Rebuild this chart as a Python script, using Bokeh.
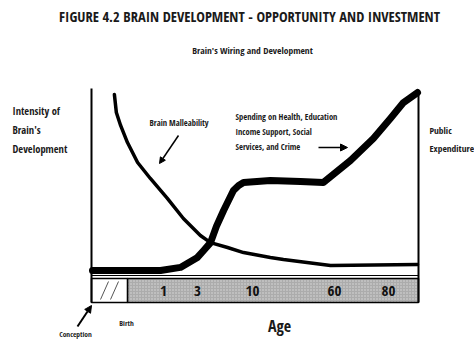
from bokeh.plotting import figure
from bokeh.models import Range1d, Arrow, NormalHead
from bokeh.core.properties import value
from bokeh.embed import file_html
from bokeh.resources import INLINE

# ---- data (x: position along the age axis 0-100, y: intensity 0-100) ----
expenditure_x = [0.3, 21.1, 27.2, 32.4, 34.3, 36.4, 38.2, 40.4, 43.4, 45.0, 46.5, 54.7, 63.9, 70.9, 79.2, 86.2, 91.4, 95.4, 99.7]
expenditure_y = [4.3, 4.3, 5.9, 11.2, 14.9, 19.1, 27.7, 36.2, 46.8, 49.5, 51.1, 52.1, 51.6, 51.1, 62.8, 74.5, 85.1, 93.6, 98.9]
malleability_x = [7.0, 7.6, 8.9, 11.0, 14.1, 18.0, 23.2, 28.1, 33.3, 36.4, 41.6, 46.5, 54.7, 58.7, 73.1, 99.7]
malleability_y = [97.9, 88.3, 81.4, 72.3, 61.7, 53.2, 42.6, 31.9, 22.9, 19.1, 16.5, 13.8, 11.2, 10.1, 6.9, 7.4]
age_labels = ["1", "3", "10", "60", "80"]
age_label_pos = [22.0, 32.4, 49.2, 74.3, 90.8]
birth_pos = 11.0

# ---- layout helpers (pixel -> data) ----
X0, KX = 91.0, 3.27
Y0, KY = 278.0, 1.88
def dx(px):
    return (px - X0) / KX
def dy(py):
    return (Y0 - py) / KY

W, H = 474, 342
p = figure(width=W, height=H, output_backend="svg", toolbar_location=None,
           x_range=Range1d(dx(0), dx(W)), y_range=Range1d(dy(H), dy(0)),
           x_axis_type=None, y_axis_type=None, min_border=0)
p.outline_line_color = None
p.xgrid.visible = False
p.ygrid.visible = False
p.background_fill_color = "white"
p.border_fill_color = "white"

FONT = value("Open Sans Condensed")

# age bar
bar_bottom = dy(302)
p.quad(left=[birth_pos], right=[100], bottom=[bar_bottom], top=[0],
       fill_color="#acacac", line_color="black", line_width=1.5,
       hatch_pattern="dot", hatch_color="#dcdcdc", hatch_scale=3)
p.quad(left=[0], right=[birth_pos], bottom=[bar_bottom], top=[0],
       fill_color="white", line_color="black", line_width=1.5)
# hatch strokes in the pre-birth box
p.segment(x0=[dx(100), dx(110)], y0=[dy(299), dy(299)],
          x1=[dx(108), dx(118)], y1=[dy(281), dy(281)],
          line_color="#555555", line_width=1)
# frame base line
p.line([0, 100], [dy(275), dy(275)], line_color="black", line_width=1.2)

# axes lines
p.line([0, 0], [dy(88), bar_bottom], line_color="black", line_width=2)
p.line([100, 100], [dy(91), bar_bottom], line_color="black", line_width=2)

# curves
p.line(malleability_x, malleability_y, line_color="black", line_width=3.5,
       line_join="round", line_cap="round")
p.line(expenditure_x, expenditure_y, line_color="black", line_width=7,
       line_join="round", line_cap="round")

# age labels
p.text(x=age_label_pos, y=[dy(290)] * len(age_labels), text=age_labels,
       text_font=FONT, text_font_style="bold", text_font_size="15px",
       text_align="center", text_baseline="middle", text_color="#111111")

def txt(x, y, s, size, align="left", bold=True):
    p.text(x=[dx(x)], y=[dy(y)], text=[s], text_font=FONT,
           text_font_style="bold" if bold else "normal",
           text_font_size=size, text_align=align, text_baseline="middle",
           text_color="#1a1a1a")

txt(249, 16, "FIGURE 4.2 BRAIN DEVELOPMENT - OPPORTUNITY AND INVESTMENT", "14.5px", "center")
txt(252, 50, "Brain's Wiring and Development", "9.5px", "center")
txt(12, 110, "Intensity of", "10.5px")
txt(12, 129, "Brain's", "10.5px")
txt(12, 148, "Development", "10.5px")
txt(149, 122, "Brain Malleability", "8.5px")
txt(235, 116, "Spending on Health, Education", "8.5px")
txt(235, 131, "Income Support, Social", "8.5px")
txt(235, 146, "Services, and Crime", "8.5px")
txt(429, 130, "Public", "9.5px")
txt(429, 148, "Expenditure", "9.5px")
txt(126, 322, "Birth", "7.5px", "center")
txt(75, 333, "Conception", "7.5px", "center")
txt(279, 325, "Age", "16px", "center")

# arrows
p.add_layout(Arrow(end=NormalHead(size=6, fill_color="black", line_color="black"),
                   x_start=dx(178), y_start=dy(135), x_end=dx(159), y_end=dy(163),
                   line_width=1.5, line_color="black"))
p.add_layout(Arrow(end=NormalHead(size=7, fill_color="black", line_color="black"),
                   x_start=dx(318), y_start=dy(147), x_end=dx(347), y_end=dy(147),
                   line_width=1.5, line_color="black"))
p.add_layout(Arrow(end=NormalHead(size=7, fill_color="black", line_color="black"),
                   x_start=dx(77), y_start=dy(326), x_end=dx(91), y_end=dy(305),
                   line_width=2, line_color="black"))

open("out.html", "w").write(file_html(p, INLINE))
